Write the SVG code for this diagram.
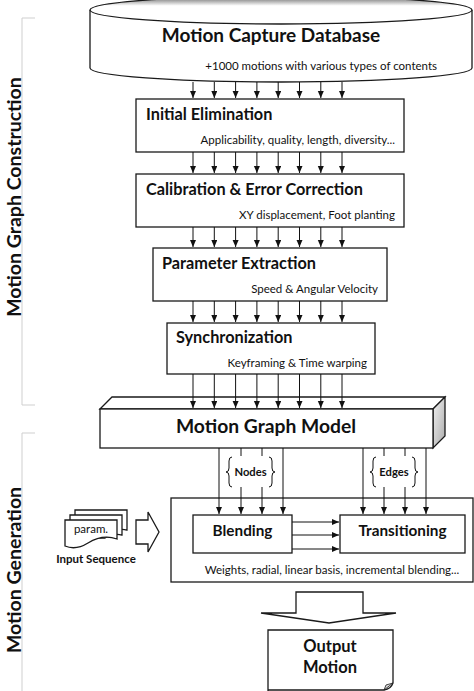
<svg xmlns="http://www.w3.org/2000/svg" width="474" height="691" viewBox="0 0 474 691">
<style>
.box{fill:#fff;stroke:#1a1a1a;stroke-width:1.3}
.t{font-family:Lato,'Liberation Sans',sans-serif;font-weight:bold;fill:#111}
.s{font-family:Lato,'Liberation Sans',sans-serif;font-size:11.5px;fill:#111}
.ar line{stroke:#111;stroke-width:1;marker-end:url(#ah)}
.ln{stroke:#111;stroke-width:1;fill:none}
.br{stroke:#cfcfcf;stroke-width:1;fill:none}
</style>
<defs>
<marker id="ah" markerUnits="userSpaceOnUse" markerWidth="8" markerHeight="8" refX="7" refY="3" orient="auto"><path d="M0,0 L7,3 L0,6 z" fill="#111"/></marker>
<linearGradient id="cyl" x1="0" y1="0" x2="0" y2="1"><stop offset="0" stop-color="#555"/><stop offset="0.14" stop-color="#999"/><stop offset="0.35" stop-color="#fff"/></linearGradient>
<linearGradient id="side" x1="0" y1="0" x2="1" y2="1"><stop offset="0" stop-color="#f2f2f2"/><stop offset="1" stop-color="#aaa"/></linearGradient>
</defs>

<g id="label-construction">
<path class="br" d="M35,18 H22 V405 H35"/>
<text class="t" font-size="19.5" text-anchor="middle" transform="translate(20.5,197) rotate(-90)">Motion Graph Construction</text>
</g>
<g id="label-generation">
<path class="br" d="M35,433 H22 V691"/>
<text class="t" font-size="19.5" text-anchor="middle" transform="translate(20.5,570) rotate(-90)">Motion Generation</text>
</g>

<g id="database">
<path class="box" d="M90,10 V68 A191,14 0 0 0 472,68 V10"/>
<ellipse cx="281" cy="10" rx="191" ry="14" fill="url(#cyl)" stroke="#1a1a1a" stroke-width="1.3"/>
<text class="t" font-size="19" x="271" y="42" text-anchor="middle">Motion Capture Database</text>
<text class="s" x="437" y="70" text-anchor="end">+1000 motions with various types of contents</text>
</g>

<g id="initial-elimination">
<rect class="box" x="136" y="99" width="268" height="53"/>
<text class="t" font-size="16.3" x="146" y="120">Initial Elimination</text>
<text class="s" x="395" y="144" text-anchor="end">Applicability, quality, length, diversity...</text>
</g>

<g id="calibration">
<rect class="box" x="136" y="174" width="268" height="53"/>
<text class="t" font-size="16.3" x="146" y="195">Calibration &amp; Error Correction</text>
<text class="s" x="395" y="219" text-anchor="end">XY displacement, Foot planting</text>
</g>

<g id="parameter-extraction">
<rect class="box" x="153" y="248" width="234" height="53"/>
<text class="t" font-size="16.3" x="162" y="269">Parameter Extraction</text>
<text class="s" x="378" y="293" text-anchor="end">Speed &amp; Angular Velocity</text>
</g>

<g id="synchronization">
<rect class="box" x="167" y="323" width="208" height="51"/>
<text class="t" font-size="16.3" x="176" y="343">Synchronization</text>
<text class="s" x="367" y="367" text-anchor="end">Keyframing &amp; Time warping</text>
</g>

<g id="motion-graph-model">
<polygon class="box" points="100,409 112,397 445,397 433,409"/>
<polygon points="433,409 445,397 445,436 433,448" fill="url(#side)" stroke="#1a1a1a" stroke-width="1.3"/>
<rect class="box" x="100" y="409" width="333" height="39"/>
<text class="t" font-size="19.3" x="266" y="433" text-anchor="middle">Motion Graph Model</text>
</g>

<g id="generation-container">
<rect class="box" x="171" y="498" width="302" height="84"/>
<text class="s" x="332" y="574" text-anchor="middle">Weights, radial, linear basis, incremental blending...</text>
</g>

<g id="connectors" class="ar">
<line x1="193" y1="82" x2="193" y2="98"/><line x1="214.3" y1="82" x2="214.3" y2="98"/><line x1="235.6" y1="82" x2="235.6" y2="98"/><line x1="256.9" y1="82" x2="256.9" y2="98"/><line x1="278.2" y1="82" x2="278.2" y2="98"/><line x1="299.5" y1="82" x2="299.5" y2="98"/><line x1="320.8" y1="82" x2="320.8" y2="98"/><line x1="342" y1="82" x2="342" y2="98"/>
<line x1="193" y1="152" x2="193" y2="173"/><line x1="214.3" y1="152" x2="214.3" y2="173"/><line x1="235.6" y1="152" x2="235.6" y2="173"/><line x1="256.9" y1="152" x2="256.9" y2="173"/><line x1="278.2" y1="152" x2="278.2" y2="173"/><line x1="299.5" y1="152" x2="299.5" y2="173"/><line x1="320.8" y1="152" x2="320.8" y2="173"/><line x1="342" y1="152" x2="342" y2="173"/>
<line x1="193" y1="227" x2="193" y2="247"/><line x1="214.3" y1="227" x2="214.3" y2="247"/><line x1="235.6" y1="227" x2="235.6" y2="247"/><line x1="256.9" y1="227" x2="256.9" y2="247"/><line x1="278.2" y1="227" x2="278.2" y2="247"/><line x1="299.5" y1="227" x2="299.5" y2="247"/><line x1="320.8" y1="227" x2="320.8" y2="247"/><line x1="342" y1="227" x2="342" y2="247"/>
<line x1="193" y1="301" x2="193" y2="322"/><line x1="214.3" y1="301" x2="214.3" y2="322"/><line x1="235.6" y1="301" x2="235.6" y2="322"/><line x1="256.9" y1="301" x2="256.9" y2="322"/><line x1="278.2" y1="301" x2="278.2" y2="322"/><line x1="299.5" y1="301" x2="299.5" y2="322"/><line x1="320.8" y1="301" x2="320.8" y2="322"/><line x1="342" y1="301" x2="342" y2="322"/>
<line x1="193" y1="374" x2="193" y2="408"/><line x1="214.3" y1="374" x2="214.3" y2="408"/><line x1="235.6" y1="374" x2="235.6" y2="408"/><line x1="256.9" y1="374" x2="256.9" y2="408"/><line x1="278.2" y1="374" x2="278.2" y2="408"/><line x1="299.5" y1="374" x2="299.5" y2="408"/><line x1="320.8" y1="374" x2="320.8" y2="408"/><line x1="342" y1="374" x2="342" y2="408"/>
<line x1="219" y1="448" x2="219" y2="514"/><line x1="241" y1="448" x2="241" y2="514"/><line x1="262" y1="448" x2="262" y2="514"/><line x1="283" y1="448" x2="283" y2="514"/>
<line x1="363" y1="448" x2="363" y2="514"/><line x1="384" y1="448" x2="384" y2="514"/><line x1="405" y1="448" x2="405" y2="514"/><line x1="426" y1="448" x2="426" y2="514"/>
<line x1="292" y1="522" x2="339" y2="522"/><line x1="292" y1="535" x2="339" y2="535"/><line x1="292" y1="549" x2="339" y2="549"/>
</g>

<g id="nodes-label">
<rect x="232" y="456" width="38" height="31" fill="#fff"/>
<path class="ln" d="M232,457 Q229,457 229,461 V468 Q229,472 226,472 Q229,472 229,476 V483 Q229,487 232,487"/>
<path class="ln" d="M269,457 Q272,457 272,461 V468 Q272,472 275,472 Q272,472 272,476 V483 Q272,487 269,487"/>
<text class="t" font-size="11.2" x="250.5" y="476" text-anchor="middle">Nodes</text>
</g>
<g id="edges-label">
<rect x="376" y="456" width="37" height="31" fill="#fff"/>
<path class="ln" d="M376,457 Q373,457 373,461 V468 Q373,472 370,472 Q373,472 373,476 V483 Q373,487 376,487"/>
<path class="ln" d="M412,457 Q415,457 415,461 V468 Q415,472 418,472 Q415,472 415,476 V483 Q415,487 412,487"/>
<text class="t" font-size="11.2" x="394" y="476" text-anchor="middle">Edges</text>
</g>

<g id="blending">
<rect class="box" x="193" y="515" width="99" height="38"/>
<text class="t" font-size="15.3" x="242.5" y="536" text-anchor="middle">Blending</text>
</g>
<g id="transitioning">
<rect class="box" x="340" y="515" width="125" height="38"/>
<text class="t" font-size="15.3" x="402.5" y="536" text-anchor="middle">Transitioning</text>
</g>

<g id="input-sequence">
<path class="box" stroke-width="1" d="M75,510 H127 V530 C120,528 115,530 110,533 L75,533 Z"/>
<path class="box" stroke-width="1" d="M70,515 H122 V535 C115,533 110,535 105,538 L70,538 Z"/>
<path class="box" stroke-width="1" d="M65,520 H117 V539 C106,535 96,538 88,543 C80,548 72,549 65,546 Z"/>
<text class="s" font-size="11" x="91" y="533" text-anchor="middle">param.</text>
<text class="t" font-size="11.5" x="96" y="563" text-anchor="middle">Input Sequence</text>
<polygon class="box" stroke-width="1" points="136,520 148,520 148,512 159,532 148,552 148,544 136,544"/>
</g>

<g id="output-motion">
<polygon class="box" stroke-width="1" points="296,592 363,592 363,613 396,613 329,623 261,613 296,613"/>
<path class="box" stroke-width="1" d="M268,691 V630 H393 V683 Q391,689 384,690 H268"/>
<path d="M393,683 L386,685 L384,690 Z" fill="#ddd" stroke="#1a1a1a" stroke-width="0.8"/>
<text class="t" font-size="16.5" x="330" y="652" text-anchor="middle">Output</text>
<text class="t" font-size="16.5" x="330" y="673" text-anchor="middle">Motion</text>
</g>
</svg>
